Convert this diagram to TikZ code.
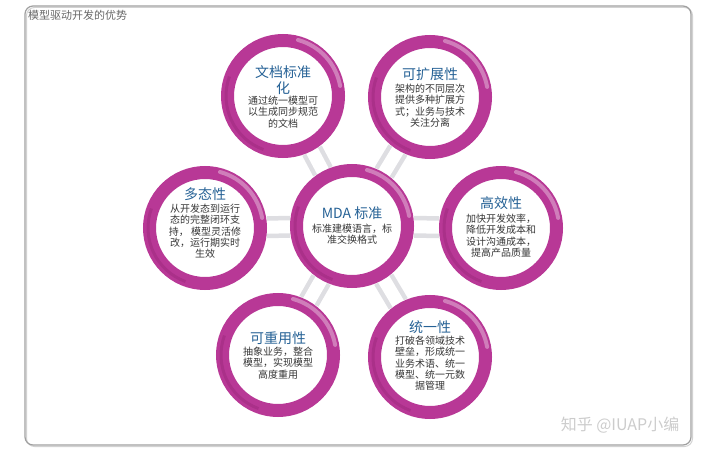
\documentclass[tikz,border=0pt]{standalone}
\usepackage{fontspec}
\setmainfont{Noto Sans CJK SC}
\usetikzlibrary{positioning,backgrounds}
\definecolor{ringcol}{RGB}{184,56,150}
\definecolor{ringdark}{RGB}{130,25,100}
\definecolor{headcol}{RGB}{38,98,150}
\definecolor{bodycol}{RGB}{55,55,55}
\definecolor{neckcol}{RGB}{222,222,226}
\begin{document}
\begin{tikzpicture}[x=1pt,y=-1pt,
	ring/.style={circle, draw=ringcol, line width=13pt, fill=white, minimum size=111pt, inner sep=0pt},
	headtext/.style={font=\fontsize{14}{16}\selectfont, text=headcol, align=center, inner sep=0pt},
	bodytext/.style={font=\fontsize{10}{11.3}\selectfont, text=bodycol, align=center, inner sep=0pt},
	neck/.style={draw=neckcol, line width=22pt},
	neckin/.style={draw=white, line width=13pt},
	shine/.style={draw=white, opacity=0.35, line width=4pt, line cap=round},
	]
	\useasboundingbox (0,0) rectangle (720,454);
	% frame and title
	\draw[gray!35, line width=1pt, rounded corners=8pt] (26.5,7.5) rectangle (692.5,446.5);
	\draw[gray!75, line width=1.2pt, rounded corners=8pt] (25,6) rectangle (691,445);
	\node[anchor=west, text=gray!80!black, font=\fontsize{11}{12}\selectfont, inner sep=0pt] (title) at (28,15) {模型驱动开发的优势};

	% rings
	\node[ring] (mda)   at (352,226) {};
	\node[ring] (doc)   at (283,96)  {};
	\node[ring] (ext)   at (430,97)  {};
	\node[ring] (poly)  at (205,228) {};
	\node[ring] (eff)   at (501,228) {};
	\node[ring] (reuse) at (278,355) {};
	\node[ring] (uni)   at (430,357) {};

	% highlights on the rings
	\foreach \r in {mda,doc,ext,poly,eff,reuse,uni}{
		\draw[shine] ([shift={(-10:58)}]\r.center) arc[start angle=-10, end angle=-75, radius=58];
		\draw[ringdark, opacity=0.25, line width=3pt] ([shift={(-160:57)}]\r.center) arc[start angle=-160, end angle=-250, radius=57];
	}

	% necks
	\begin{scope}[on background layer]
		\foreach \r in {doc,ext,poly,eff,reuse,uni}{
			\draw[neck] (mda) -- (\r);
			\draw[neckin] (mda) -- (\r);
		}
	\end{scope}

	% texts
	\node[headtext, anchor=south] (docHead) at ([yshift=1pt]doc.center) {文档标准\\化};
	\node[bodytext, below=1pt of docHead] (docBody) {通过统一模型可\\以生成同步规范\\的文档};

	\node[headtext, anchor=south] (extHead) at ([yshift=16pt]ext.center) {可扩展性};
	\node[bodytext, below=3pt of extHead] (extBody) {架构的不同层次\\提供多种扩展方\\式；业务与技术\\关注分离};

	\node[headtext, anchor=south] (polyHead) at ([yshift=27pt]poly.center) {多态性};
	\node[bodytext, below=3pt of polyHead] (polyBody) {从开发态到运行\\态的完整闭环支\\持， 模型灵活修\\改，运行期实时\\生效};

	\node[headtext, anchor=south] (mdaHead) at ([yshift=6pt]mda.center) {MDA\ 标准};
	\node[bodytext, below=4pt of mdaHead] (mdaBody) {标准建模语言，标\\准交换格式};

	\node[headtext, anchor=south] (effHead) at ([yshift=18pt]eff.center) {高效性};
	\node[bodytext, below=4pt of effHead] (effBody) {加快开发效率，\\降低开发成本和\\设计沟通成本，\\提高产品质量};

	\node[headtext, anchor=south] (reuseHead) at ([yshift=10pt]reuse.center) {可重用性};
	\node[bodytext, below=2pt of reuseHead] (reuseBody) {抽象业务，整合\\模型，实现模型\\高度重用};

	\node[headtext, anchor=south] (uniHead) at ([yshift=23pt]uni.center) {统一性};
	\node[bodytext, below=2pt of uniHead] (uniBody) {打破各领域技术\\壁垒，形成统一\\业务术语、统一\\模型、统一元数\\据管理};

	% watermark
	\node[text=gray!40, font=\fontsize{16}{18}\selectfont, inner sep=0pt] (mark) at (620,425) {知乎 @IUAP小编};
\end{tikzpicture}
\end{document}
